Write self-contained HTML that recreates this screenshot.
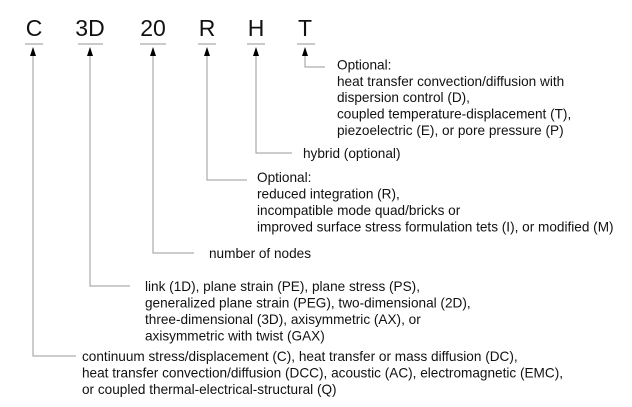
<!DOCTYPE html>
<html><head><style>
body{margin:0;background:#fff;}
svg text{font-family:"Liberation Sans",Arial,sans-serif;fill:#111;}
.t{font-size:13.6px;}
.big{font-size:23px;}
</style></head><body>
<svg width="632" height="402" viewBox="0 0 632 402" xmlns="http://www.w3.org/2000/svg">
<g class="big" text-anchor="middle">
<text x="34" y="36">C</text><text x="90" y="36">3D</text><text x="153" y="36">20</text>
<text x="207" y="36">R</text><text x="256" y="36">H</text><text x="305" y="36">T</text>
</g>
<g stroke="#aaa" stroke-width="1.2">
<line x1="25" y1="44" x2="43" y2="44"/><line x1="78" y1="44" x2="103" y2="44"/>
<line x1="140" y1="44" x2="166" y2="44"/><line x1="198" y1="44" x2="216" y2="44"/>
<line x1="247" y1="44" x2="265" y2="44"/><line x1="297" y1="44" x2="315" y2="44"/>
</g>
<g stroke="#999" stroke-width="1" fill="none">
<polyline points="33,48 33,356 76,356"/>
<polyline points="90,48 90,286 130,286"/>
<polyline points="153,48 153,253 194,253"/>
<polyline points="207,48 207,180 247,180"/>
<polyline points="256,48 256,153 292,153"/>
<polyline points="305,48 305,67 325,67"/>
</g>
<g fill="#000">
<path d="M30,56 L33,47 L36,56Z"/><path d="M87,56 L90,47 L93,56Z"/><path d="M150,56 L153,47 L156,56Z"/>
<path d="M204,56 L207,47 L210,56Z"/><path d="M253,56 L256,47 L259,56Z"/><path d="M302,56 L305,47 L308,56Z"/>
</g>
<g class="t">
<text x="337" y="69.5">Optional:</text>
<text x="337" y="86">heat transfer convection/diffusion with</text>
<text x="337" y="102">dispersion control (D),</text>
<text x="337" y="118.5">coupled temperature-displacement (T),</text>
<text x="337" y="135">piezoelectric (E), or pore pressure (P)</text>
<text x="303" y="158">hybrid (optional)</text>
<text x="257" y="182">Optional:</text>
<text x="257" y="198.5">reduced integration (R),</text>
<text x="257" y="215">incompatible mode quad/bricks or</text>
<text x="257" y="231.5">improved surface stress formulation tets (I), or modified (M)</text>
<text x="209" y="258">number of nodes</text>
<text x="145" y="291">link (1D), plane strain (PE), plane stress (PS),</text>
<text x="145" y="307.5">generalized plane strain (PEG), two-dimensional (2D),</text>
<text x="145" y="324">three-dimensional (3D), axisymmetric (AX), or</text>
<text x="145" y="340.5">axisymmetric with twist (GAX)</text>
<text x="82" y="361">continuum stress/displacement (C), heat transfer or mass diffusion (DC),</text>
<text x="82" y="377.5">heat transfer convection/diffusion (DCC), acoustic (AC), electromagnetic (EMC),</text>
<text x="82" y="394">or coupled thermal-electrical-structural (Q)</text>
</g>
</svg>
</body></html>
